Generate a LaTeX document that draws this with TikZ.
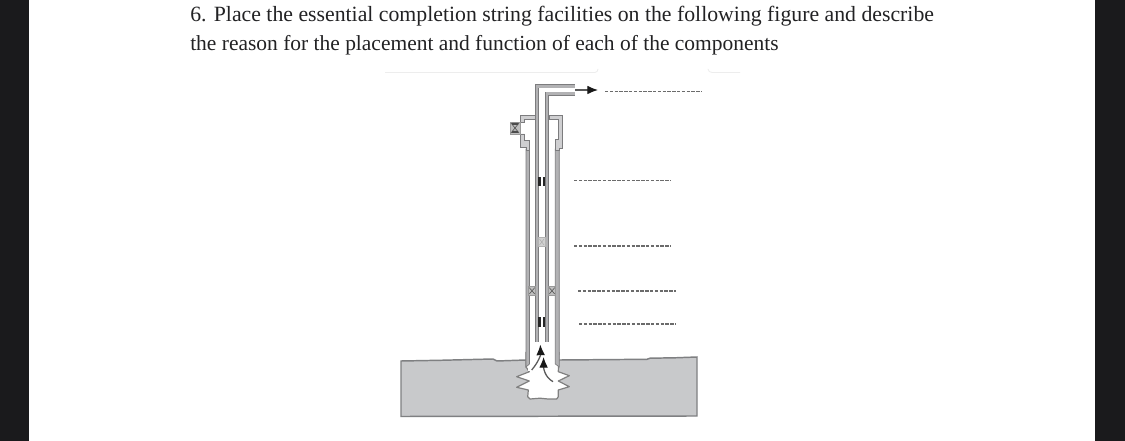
\documentclass[tikz,border=0pt]{standalone}
\usepackage{fontspec}
\setmainfont{Liberation Serif}
\usetikzlibrary{arrows.meta}
\definecolor{sidebar}{HTML}{1A1A1C}
\definecolor{rockfill}{HTML}{C8C9CB}
\definecolor{rockedge}{HTML}{7F8082}
\definecolor{wallfill}{HTML}{B2B2B4}
\definecolor{headfill}{HTML}{CFCFD1}
\definecolor{walledge}{HTML}{7C7C7E}
\definecolor{inktext}{HTML}{222224}
\tikzset{
  pipewall/.style={draw=walledge,line width=.5pt,double=wallfill,double distance=2.1pt,line join=miter},
  wallshape/.style={draw=walledge,fill=wallfill,line width=.5pt,line join=miter},
  headshape/.style={draw=walledge,fill=headfill,line width=.5pt,line join=miter},
  rockline/.style={draw=rockedge,line width=1.1pt},
  holeline/.style={draw=black!50,line width=.9pt,fill=white,line join=round},
  blank/.style={dash pattern=on 2.6pt off 1pt,draw=black!58,line width=1.15pt},
  flowarrow/.style={draw=black!65,line width=.95pt,-{Latex[length=8pt,width=6.5pt,black!90]}},
  xbox/.style={draw=black!40,fill=black!25,line width=.7pt},
  xmark/.style={draw=black!65,line width=.5pt},
  bar/.style={fill=black!85,draw=none},
  faint/.style={draw=black!7,line width=.6pt},
  qtext/.style={anchor=base west,inner sep=0pt,text=inktext}
}
\begin{document}
\begin{tikzpicture}[x=.75pt,y=-.75pt]
\useasboundingbox (0,0) rectangle (1125,441);
\fill[white] (0,0) rectangle (1125,441);
\fill[sidebar] (0,0) rectangle (29,441);
\fill[sidebar] (1095,0) rectangle (1125,441);
% question text
\node[qtext,font=\fontsize{16.33pt}{19pt}\selectfont] (line1) at (190,22) {6. Place the essential completion string facilities on the following figure and describe};
\node[qtext,font=\fontsize{16.1pt}{19pt}\selectfont] (line2) at (190,51) {the reason for the placement and function of each of the components};
% faint scan traces
\draw[faint] (385,72.5) -- (595,72.5) to[out=0,in=-90] (598,69);
\draw[faint] (740,72.5) -- (712,72.5) to[out=180,in=-90] (708,69);
% formation
\path[fill=rockfill,rockline] (401,361) -- (440,360.3) -- (493,359) -- (497,361) -- (526,360) -- (560,360) -- (647,359.3) -- (650,358.2) -- (675,357.8) -- (697,357) -- (697,416) -- (401,416.5) -- cycle;
% well bore with perforations
\path[holeline] (526,352) -- (526,367) -- (529.3,371.7) -- (516.7,376.7) -- (529.3,381) -- (516.7,387.3) -- (528.3,390) -- (527.7,396.7) -- (530,399) -- (540,398.2) -- (548,399) -- (556.7,399) -- (558.3,396.7) -- (558.3,390) -- (569.3,386.7) -- (558.3,381) -- (569.3,375.7) -- (558.3,371.7) -- (558.5,366) -- (559,352);
\fill[white] (528,350) rectangle (557,371);
% casing and wellhead
\path[wallshape] (526,149) -- (529.5,149) -- (529.5,364) -- (526,367) -- cycle;
\path[wallshape] (555.3,149) -- (559.3,149) -- (559.3,367) -- (555.3,364) -- cycle;
\path[headshape] (520,134) -- (524.5,134) -- (524.5,140.5) -- (529.5,140.5) -- (529.5,150) -- (526,150) -- (526,147.5) -- (520,147.5) -- cycle;
\path[headshape] (535,115.5) -- (520.5,115.5) -- (520.5,122) -- (524.5,122) -- (524.5,119.5) -- (535,119.5) -- cycle;
\path[headshape] (549,115.5) -- (562.3,115.5) -- (562.3,148.5) -- (559.3,148.5) -- (559.3,150) -- (555.3,150) -- (555.3,139.5) -- (558.3,139.5) -- (558.3,119.5) -- (549,119.5) -- cycle;
% tubing
\draw[pipewall] (537,342) -- (537,86.2) -- (575,86.2);
\draw[pipewall] (547,342) -- (547,93.8) -- (575,93.8);
% outlet arrow
\coordinate (outA) at (575,90);
\coordinate (outB) at (598,90);
\draw[flowarrow] (outA) -- (outB);
% wing valve
\draw[xbox] (510,122) rectangle (520,134);
\draw[xmark] (511,123) -- (519,133) (519,123) -- (511,133);
\fill[black!70] (512,123) rectangle (518,125) (512,131) rectangle (518,133);
% packers
\foreach \xa in {528.3,548.3}{
  \draw[xbox] (\xa,286.7) rectangle ++(7.4,8.3);
  \draw[xmark] (\xa+1,287.7) -- (\xa+6.4,294) (\xa+6.4,287.7) -- (\xa+1,294);
}
% sliding sleeve
\draw[draw=black!30,fill=black!18,line width=.4pt] (538.6,237.7) rectangle (545,246);
\draw[draw=black!35,line width=.3pt] (539.5,239) -- (544,245) (544,239) -- (539.5,245);
% nipples
\foreach \ya in {176.7,317.3}{
  \fill[bar] (538.4,\ya) rectangle ++(2.4,9.4);
  \fill[bar] (543.4,\ya) rectangle ++(1.7,9.4);
}
% flow arrows
\coordinate (flowA) at (531.7,370);
\coordinate (flowB) at (540.3,344.5);
\coordinate (flowC) at (553,381.7);
\coordinate (flowD) at (543.6,357);
\draw[flowarrow] (flowA) to[out=50,in=-88] (flowB);
\draw[flowarrow] (flowC) to[out=150,in=-90] (flowD);
% answer blanks
\draw[blank] (605,91.3) -- (702,91.3);
\draw[blank] (574,180.3) -- (671,180.3);
\draw[blank] (574,246) -- (671,246);
\draw[blank] (578,291) -- (676,291);
\draw[blank] (579,324) -- (676,324);
\end{tikzpicture}
\end{document}
